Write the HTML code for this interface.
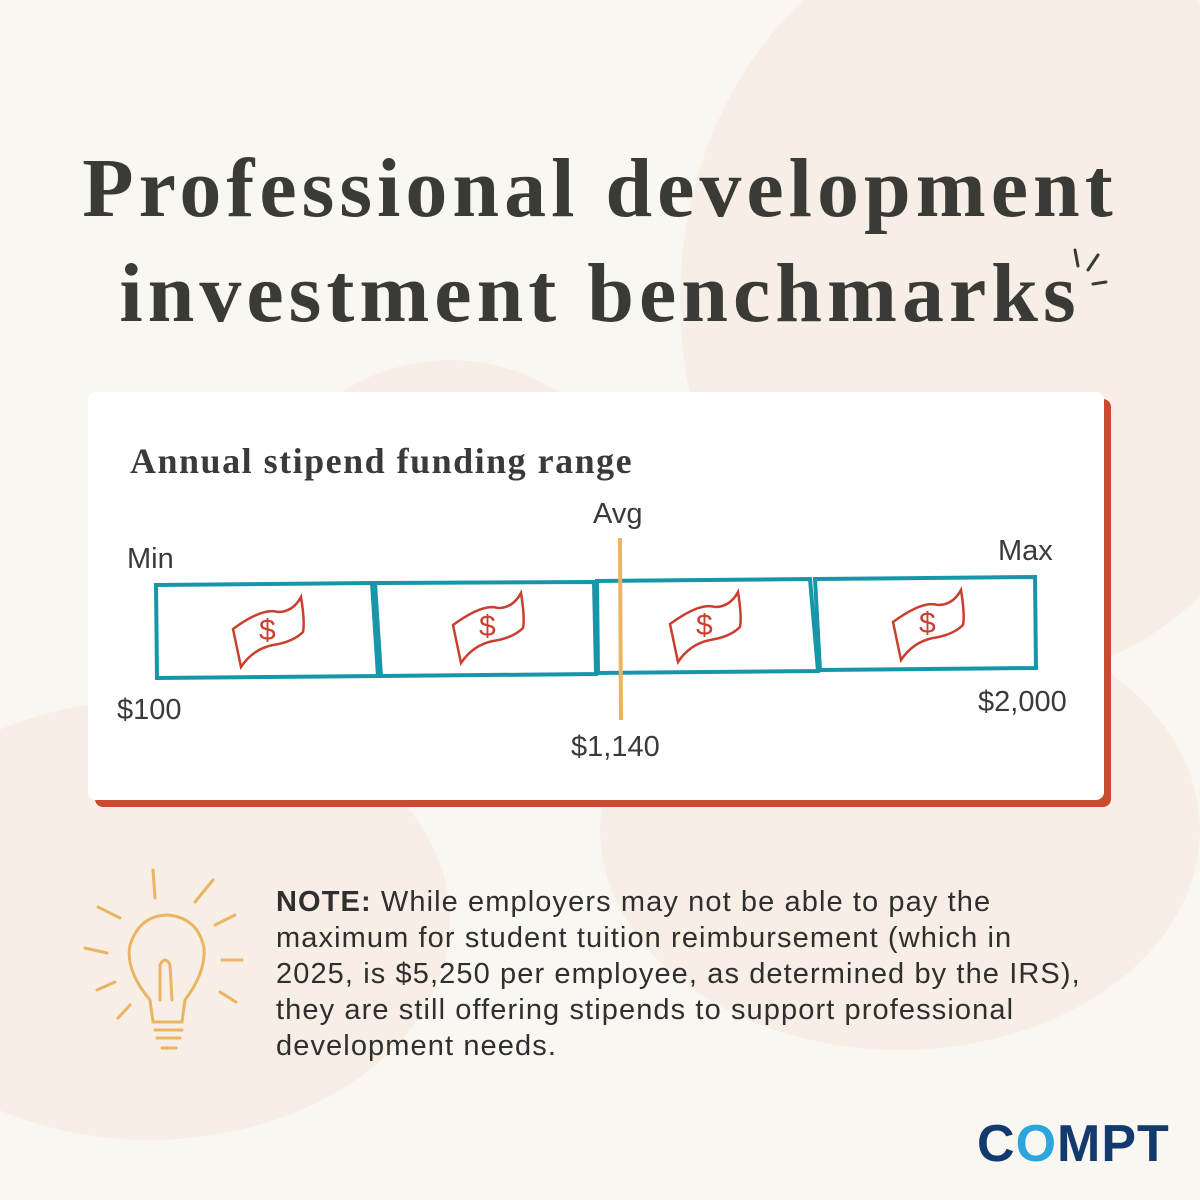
<!DOCTYPE html>
<html><head><meta charset="utf-8"><style>
body{margin:0;width:1200px;height:1200px;overflow:hidden;background:#faf7f2;position:relative;font-family:"Liberation Sans",sans-serif}
.t{position:absolute;left:0;width:1200px;text-align:center;font-family:"Liberation Serif",serif;font-weight:bold;color:#3a3a36;font-size:84px;letter-spacing:5px}
.card{position:absolute;left:88px;top:392px;width:1016px;height:408px;background:#fff;border-radius:8px;box-shadow:7px 7px 0 #cc4a32}
.l{position:absolute;font-size:29px;color:#3a3a36}
.note{position:absolute;left:276px;top:884px;width:900px;white-space:nowrap;font-size:29px;line-height:36px;color:#2f2f2f;letter-spacing:1.1px}
</style></head><body>
<svg width="1200" height="1200" style="position:absolute;left:0;top:0">
<ellipse cx="1000" cy="300" rx="320" ry="380" fill="#f7efe5"/>
<ellipse cx="900" cy="830" rx="300" ry="220" fill="#f7efe5"/>
<ellipse cx="150" cy="920" rx="300" ry="220" fill="#f7efe5"/>
<ellipse cx="450" cy="560" rx="200" ry="200" fill="#f7efe5"/>
</svg>
<div class="t" style="top:140px">Professional development</div>
<div class="t" style="top:245px">investment benchmarks</div>
<svg width="1200" height="1200" style="position:absolute;left:0;top:0">
<g stroke="#3a3a36" stroke-width="3" stroke-linecap="round"><line x1="1075" y1="250" x2="1078" y2="266"/><line x1="1098" y1="255" x2="1088" y2="270"/><line x1="1106" y1="282" x2="1093" y2="284"/></g>
</svg>
<div class="card"></div>
<div style="position:absolute;left:130px;top:440px;font-family:'Liberation Serif',serif;font-weight:bold;font-size:36px;letter-spacing:1.5px;color:#3a3a36">Annual stipend funding range</div>
<div class="l" style="left:127px;top:543px">Min</div>
<div class="l" style="left:593px;top:498px">Avg</div>
<div class="l" style="left:998px;top:535px">Max</div>
<div class="l" style="left:117px;top:694px">$100</div>
<div class="l" style="left:571px;top:731px">$1,140</div>
<div class="l" style="left:978px;top:686px">$2,000</div>
<svg width="1200" height="1200" style="position:absolute;left:0;top:0">
<g fill="none" stroke="#1796a9" stroke-width="4">
<path d="M156 585 L372 583 L378 676 L157 678 Z"/>
<path d="M375 583 L594 582 L596 674 L381 676 Z"/>
<path d="M597 581 L810 579 L818 671 L598 673 Z"/>
<path d="M815 579 L1035 577 L1036 668 L820 670 Z"/>
</g>
<line x1="620" y1="538" x2="621" y2="720" stroke="#eab462" stroke-width="4"/>
<g fill="none" stroke="#c9402e" stroke-width="2.5">
<g transform="translate(233,597)"><path d="M0 32 Q30 10 45 15 Q60 15 68 0 Q72 25 70 35 Q60 45 40 48 Q20 52 8 70 Z"/><text x="26" y="43" font-size="30" fill="#c9402e" stroke="none" font-family="Liberation Sans">$</text></g>
<g transform="translate(453,593)"><path d="M0 32 Q30 10 45 15 Q60 15 68 0 Q72 25 70 35 Q60 45 40 48 Q20 52 8 70 Z"/><text x="26" y="43" font-size="30" fill="#c9402e" stroke="none" font-family="Liberation Sans">$</text></g>
<g transform="translate(670,592)"><path d="M0 32 Q30 10 45 15 Q60 15 68 0 Q72 25 70 35 Q60 45 40 48 Q20 52 8 70 Z"/><text x="26" y="43" font-size="30" fill="#c9402e" stroke="none" font-family="Liberation Sans">$</text></g>
<g transform="translate(893,590)"><path d="M0 32 Q30 10 45 15 Q60 15 68 0 Q72 25 70 35 Q60 45 40 48 Q20 52 8 70 Z"/><text x="26" y="43" font-size="30" fill="#c9402e" stroke="none" font-family="Liberation Sans">$</text></g>
</g>
<g fill="none" stroke="#eab462" stroke-width="3" stroke-linecap="round">
<path d="M150 1000 Q125 970 130 945 Q140 915 168 915 Q198 918 204 948 Q206 972 185 1000 L182 1022 L153 1022 Z"/>
<path d="M155 1030 L182 1030 M157 1038 L180 1038 M162 1048 L176 1048"/>
<path d="M160 1000 L160 965 Q165 955 170 965 L172 1000"/>
<line x1="153" y1="870" x2="155" y2="898"/><line x1="213" y1="880" x2="195" y2="902"/><line x1="235" y1="915" x2="215" y2="925"/><line x1="242" y1="960" x2="222" y2="960"/><line x1="236" y1="1002" x2="220" y2="992"/>
<line x1="98" y1="907" x2="120" y2="918"/><line x1="85" y1="948" x2="107" y2="953"/><line x1="97" y1="990" x2="115" y2="982"/><line x1="118" y1="1018" x2="130" y2="1005"/>
</g>
</svg>
<div class="note"><b>NOTE:</b> While employers may not be able to pay the<br>maximum for student tuition reimbursement (which in<br>2025, is $5,250 per employee, as determined by the IRS),<br>they are still offering stipends to support professional<br>development needs.</div>
<div style="position:absolute;left:977px;top:1114px;font-size:52px;font-weight:bold;color:#123a6e;letter-spacing:1px">C<span style="color:#2aa6dc">O</span>MPT</div>
</body></html>
